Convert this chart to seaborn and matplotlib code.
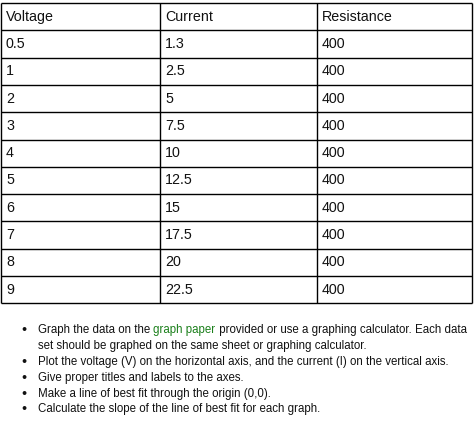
import matplotlib
matplotlib.use("Agg")
import matplotlib.pyplot as plt
import seaborn as sns

sns.set_style("white")
plt.rcParams['font.family'] = ['Liberation Sans', 'DejaVu Sans']

headers = ["Voltage", "Current", "Resistance"]
voltage = ["0.5", "1", "2", "3", "4", "5", "6", "7", "8", "9"]
current = ["1.3", "2.5", "5", "7.5", "10", "12.5", "15", "17.5", "20", "22.5"]
resistance = ["400"] * 10

bullets = [
    ["Graph the data on the ", ("graph paper", "#1a7f1a"),
     " provided or use a graphing calculator. Each data"],
    None,
    ["Plot the voltage (V) on the horizontal axis, and the current (I) on the vertical axis."],
    ["Give proper titles and labels to the axes."],
    ["Make a line of best fit through the origin (0,0)."],
    ["Calculate the slope of the line of best fit for each graph."],
]
continuation = "set should be graphed on the same sheet or graphing calculator."

fig = plt.figure(figsize=(4.74, 4.24), dpi=100)
ax = fig.add_axes([0, 0, 1, 1])
ax.set_xlim(0, 474)
ax.set_ylim(424, 0)
ax.axis("off")

# table grid
col_x = [1, 160, 317, 472]
top, row_h = 3, 27.3
n_rows = len(voltage) + 1
row_y = [top + i * row_h for i in range(n_rows + 1)]
ax.hlines(row_y, col_x[0], col_x[-1], color="black", lw=1)
ax.vlines(col_x, row_y[0], row_y[-1], color="black", lw=1)

rows = [headers] + list(zip(voltage, current, resistance))
for i, row in enumerate(rows):
    yc = (row_y[i] + row_y[i + 1]) / 2
    for j, val in enumerate(row):
        ax.text(col_x[j] + 5, yc, val, fontsize=10.3, va="center", ha="left", color="#111")

# bullet text
fs = 8.3
fig.canvas.draw()
renderer = fig.canvas.get_renderer()
line_y = [330, 346, 362, 378, 394, 409]
for y, parts in zip(line_y, bullets):
    if parts is None:
        ax.text(38, y, continuation, fontsize=fs, va="center", color="#111")
        continue
    ax.text(21, y, "\u2022", fontsize=fs + 2, va="center", color="#111")
    x = 38
    for p in parts:
        txt, col = (p, "#111") if isinstance(p, str) else p
        t = ax.text(x, y, txt, fontsize=fs, va="center", color=col)
        bb = t.get_window_extent(renderer)
        x += bb.width  # pixels == data units here

fig.savefig("out.png", dpi=100)
